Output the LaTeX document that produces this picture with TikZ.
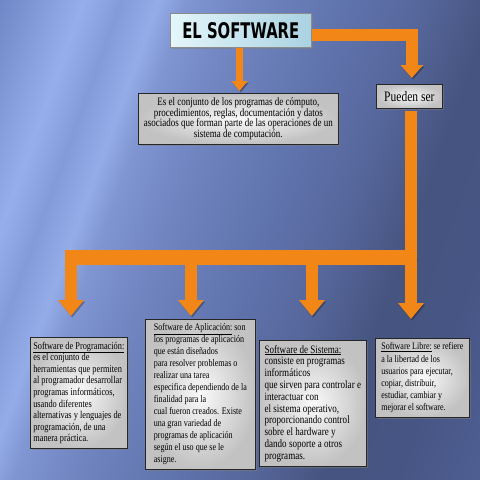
\documentclass[tikz,border=0pt]{standalone}
\usepackage{fontspec}
\usepackage{graphicx}
\setmainfont{Liberation Serif}[FakeStretch=0.8]
\newfontfamily\titlefont{DejaVu Sans}
\usetikzlibrary{arrows.meta,shadows}
\definecolor{orng}{RGB}{242,134,22}
\definecolor{bga}{RGB}{112,134,198}
\definecolor{bgb}{RGB}{150,175,236}
\definecolor{bgc}{RGB}{132,155,218}
\definecolor{bgd}{RGB}{148,172,232}
\definecolor{bge}{RGB}{128,150,210}
\definecolor{bgf}{RGB}{115,136,196}
\definecolor{bgg}{RGB}{98,118,176}
\definecolor{bgh}{RGB}{86,103,156}
\definecolor{bgi}{RGB}{70,84,128}
\definecolor{bgj}{RGB}{70,85,132}
\definecolor{bgk}{RGB}{80,96,148}
\definecolor{tA}{RGB}{228,246,250}
\definecolor{tB}{RGB}{170,210,226}
\pgfdeclarehorizontalshading{bgshade}{100bp}{color(0bp)=(bga); color(32.5bp)=(bga); color(37bp)=(bgb); color(39bp)=(bgc); color(41bp)=(bgd); color(42.5bp)=(bge); color(45bp)=(bgf); color(50bp)=(bgg); color(55bp)=(bgh); color(59bp)=(bgi); color(63bp)=(bgj); color(68bp)=(bgk); color(100bp)=(bgk)}
\newcommand{\fs}[2]{\fontsize{#1}{#2}\selectfont\lineskiplimit=-8pt\relax}
\begin{document}
\begin{tikzpicture}[x=1pt,y=-1pt,
  gbox/.style={draw=black!85, line width=0.7pt, inner color=white!96!gray, outer color=black!24,
    drop shadow={shadow xshift=2pt,shadow yshift=-2pt,opacity=.5},
    align=left, inner sep=0pt, anchor=north west},
  titlebox/.style={draw=black!45, line width=0.6pt, left color=tA, right color=tB,
    drop shadow={shadow xshift=2pt,shadow yshift=-2pt,opacity=.5}, anchor=north west, inner sep=0pt},
  obar/.style={draw=orng, line join=miter,
    preaction={draw=black, opacity=0.28, transform canvas={shift={(1.2pt,-1.6pt)}}}}
]
\useasboundingbox (0,0) rectangle (480,480);
\begin{scope}
  \clip (0,0) rectangle (480,480);
  \path[shading=bgshade, transform canvas={rotate around={-20:(240,240)}}] (-200,-200) rectangle (680,680);
\end{scope}

% nodes
\node[titlebox, minimum width=141pt, minimum height=34pt] (title) at (170,13)
  {\resizebox{117pt}{16pt}{\titlefont\bfseries EL SOFTWARE}};
\node[gbox, align=center, minimum width=200pt, minimum height=51pt,
  font=\fs{11.25}{10.5}] (desc) at (138,93)
  {Es el conjunto de los programas de cómputo,\\
   procedimientos, reglas, documentación y datos\\
   asociados que forman parte de las operaciones de un\\
   sistema de computación.};
\node[gbox, align=center, minimum width=66pt, minimum height=24pt,
  font=\fs{14.4}{15}] (pueden) at (376,84) {Pueden ser};

\node[gbox, minimum width=97pt, minimum height=111pt, font=\fs{10.4}{11.6}] (b1) at (30,337)
  {\underline{Software de Programación:}\\
   es el conjunto de\\
   herramientas que permiten\\
   al programador desarrollar\\
   programas informáticos,\\
   usando diferentes\\
   alternativas y lenguajes de\\
   programación, de una\\
   manera práctica.};
\node[gbox, minimum width=110pt, minimum height=150pt, font=\fs{10.1}{12}] (b2) at (145,319)
  {\underline{Software de Aplicación:} son\\
   los programas de aplicación\\
   que están diseñados\\
   para resolver problemas o\\
   realizar una tarea\\
   especifica dependiendo de la\\
   finalidad para la\\
   cual fueron creados. Existe\\
   una gran variedad de\\
   programas de aplicación\\
   según el uso que se le\\
   asigne.};
\node[gbox, minimum width=107pt, minimum height=126pt, font=\fs{11.3}{11.8}] (b3) at (259,340)
  {\underline{Software de Sistema:}\\
   consiste en programas\\
   informáticos\\
   que sirven para controlar e\\
   interactuar con\\
   el sistema operativo,\\
   proporcionando control\\
   sobre el hardware y\\
   dando soporte a otros\\
   programas.};
\node[gbox, minimum width=94pt, minimum height=79pt, font=\fs{10}{12.2}] (b4) at (375,338)
  {\underline{Software Libre:} se refiere\\
   a la libertad de los\\
   usuarios para ejecutar,\\
   copiar, distribuir,\\
   estudiar, cambiar y\\
   mejorar el software.};

% connector coordinates
\coordinate (t1) at (71,316);
\coordinate (t2) at (191,316);
\coordinate (t3) at (312,316);
\coordinate (t4) at (411,319);
\coordinate (hL) at (65,257.5);
\coordinate (hR) at (417,257.5);

% connectors
\draw[obar, line width=7pt, -{Triangle[width=16pt,length=10pt]}]
  (title.south -| 239.5,0) -- (239.5,91);
\draw[obar, line width=12pt, -{Triangle[width=22pt,length=13pt]}]
  ([yshift=-4.5pt]title.east) -| ([xshift=2.5pt]pueden.north) [shorten >=6pt];
\draw[obar, line width=12pt, -{Triangle[width=25pt,length=16pt]}]
  ([yshift=-2pt]pueden.south -| t4) -- (t4);
\draw[obar, line width=15pt] (hL) -- (hR);
\foreach \t in {t1,t2,t3}
  \draw[obar, line width=12pt, -{Triangle[width=25pt,length=16pt]}] (\t |- hL) -- (\t);
\end{tikzpicture}
\end{document}
